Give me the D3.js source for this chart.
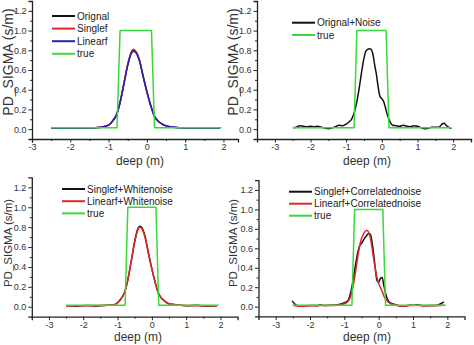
<!DOCTYPE html>
<html>
<head>
<meta charset="utf-8">
<script src="https://cdn.jsdelivr.net/npm/d3@7"></script>
<style>
  body { margin: 0; background: #fff; }
  svg { display: block; font-family: "Liberation Sans", Arial, sans-serif; }
</style>
</head>
<body>
<svg id="chart" width="474" height="345"></svg>
<script>
"use strict";

// step profile of the true model, shared by all four panels
const trueX = [-2.5, -0.78, -0.7, 0.12, 0.2, 1.95];
const trueY = [0.015, 0.015, 1.0, 1.0, 0.015, 0.015];

// noise-free inversions
const smoothX = [-2.5, -1.5, -1.2, -1.0, -0.9, -0.8, -0.7, -0.6, -0.5, -0.4, -0.35, -0.3, -0.2, -0.1, 0.0, 0.1, 0.2, 0.3, 0.4, 0.5, 0.7, 1.0, 1.9];
const orignalY = [0.01, 0.012, 0.02, 0.04, 0.08, 0.14, 0.27, 0.46, 0.65, 0.78, 0.80, 0.79, 0.71, 0.54, 0.38, 0.24, 0.13, 0.08, 0.05, 0.033, 0.02, 0.012, 0.01];
const singlefY = [0.01, 0.012, 0.02, 0.04, 0.08, 0.14, 0.27, 0.46, 0.66, 0.79, 0.81, 0.795, 0.71, 0.54, 0.38, 0.24, 0.13, 0.08, 0.05, 0.033, 0.02, 0.012, 0.01];
const linearfY = [0.01, 0.012, 0.02, 0.04, 0.08, 0.14, 0.27, 0.46, 0.65, 0.77, 0.79, 0.78, 0.70, 0.54, 0.38, 0.24, 0.13, 0.08, 0.05, 0.033, 0.02, 0.012, 0.01];

// original + noise
const noiseX = [-2.48, -2.4, -2.3, -2.2, -2.1, -2.0, -1.9, -1.8, -1.7, -1.6, -1.5, -1.4, -1.3, -1.2, -1.1, -1.0, -0.9, -0.85, -0.8, -0.75, -0.7, -0.65, -0.6, -0.55, -0.5, -0.45, -0.4, -0.35, -0.3, -0.25, -0.2, -0.15, -0.1, -0.05, 0.0, 0.05, 0.1, 0.15, 0.2, 0.25, 0.3, 0.4, 0.5, 0.6, 0.7, 0.8, 0.9, 1.0, 1.1, 1.2, 1.3, 1.4, 1.5, 1.6, 1.7, 1.75, 1.8, 1.9, 1.95];
const noiseY = [0.015, 0.02, 0.035, 0.03, 0.025, 0.03, 0.022, 0.03, 0.02, 0.012, 0.005, 0.012, 0.025, 0.04, 0.035, 0.05, 0.08, 0.1, 0.14, 0.2, 0.28, 0.38, 0.5, 0.62, 0.72, 0.79, 0.81, 0.815, 0.81, 0.76, 0.65, 0.55, 0.42, 0.33, 0.31, 0.28, 0.22, 0.15, 0.1, 0.06, 0.04, 0.035, 0.03, 0.04, 0.03, 0.025, 0.035, 0.03, 0.015, 0.005, 0.01, 0.02, 0.018, 0.02, 0.055, 0.06, 0.04, 0.015, 0.005];

// white noise inversions
const whiteX = [-2.5, -2.2, -1.9, -1.6, -1.3, -1.1, -1.0, -0.9, -0.8, -0.7, -0.6, -0.5, -0.4, -0.35, -0.3, -0.2, -0.1, 0.0, 0.1, 0.2, 0.3, 0.4, 0.5, 0.7, 1.0, 1.3, 1.6, 1.9];
const singlefWhiteY = [0.01, 0.006, 0.012, 0.008, 0.015, 0.02, 0.04, 0.08, 0.14, 0.27, 0.46, 0.66, 0.79, 0.81, 0.80, 0.71, 0.54, 0.38, 0.24, 0.13, 0.08, 0.05, 0.03, 0.02, 0.01, 0.014, 0.008, 0.01];
const linearfWhiteY = [0.01, 0.01, 0.01, 0.012, 0.015, 0.02, 0.04, 0.08, 0.14, 0.27, 0.46, 0.65, 0.78, 0.80, 0.79, 0.70, 0.54, 0.38, 0.24, 0.13, 0.08, 0.05, 0.03, 0.02, 0.012, 0.01, 0.01, 0.01];

// correlated noise inversions
const corrSingleX = [-2.52, -2.45, -2.35, -2.2, -2.0, -1.8, -1.7, -1.6, -1.4, -1.2, -1.0, -0.9, -0.85, -0.8, -0.75, -0.7, -0.65, -0.6, -0.55, -0.5, -0.45, -0.4, -0.35, -0.3, -0.25, -0.2, -0.15, -0.1, -0.05, 0.0, 0.05, 0.1, 0.15, 0.2, 0.25, 0.3, 0.4, 0.5, 0.6, 0.7, 0.8, 0.9, 1.0, 1.1, 1.2, 1.3, 1.5, 1.7, 1.8, 1.9];
const corrSingleY = [0.06, 0.03, 0.01, 0.005, 0.012, 0.01, 0.02, 0.012, 0.015, 0.02, 0.04, 0.06, 0.1, 0.17, 0.26, 0.37, 0.48, 0.57, 0.63, 0.65, 0.68, 0.71, 0.73, 0.75, 0.75, 0.68, 0.55, 0.40, 0.27, 0.25, 0.29, 0.30, 0.22, 0.14, 0.08, 0.05, 0.03, 0.02, 0.01, 0.005, 0.01, 0.015, 0.012, 0.02, 0.015, 0.01, 0.012, 0.015, 0.03, 0.05];
const corrLinearX = [-2.5, -2.3, -2.0, -1.6, -1.2, -1.0, -0.9, -0.8, -0.75, -0.7, -0.65, -0.6, -0.55, -0.5, -0.45, -0.4, -0.35, -0.3, -0.25, -0.2, -0.15, -0.1, -0.05, 0.0, 0.05, 0.1, 0.15, 0.2, 0.3, 0.4, 0.5, 0.7, 1.0, 1.5, 1.9];
const corrLinearY = [0.015, 0.005, 0.01, 0.012, 0.015, 0.03, 0.05, 0.12, 0.2, 0.3, 0.41, 0.53, 0.63, 0.70, 0.74, 0.77, 0.785, 0.77, 0.72, 0.62, 0.50, 0.39, 0.30, 0.24, 0.20, 0.16, 0.11, 0.08, 0.04, 0.025, 0.015, 0.005, 0.015, 0.01, 0.015];

const xTicks = [-3, -2, -1, 0, 1, 2];
const xMinor = [-2.5, -1.5, -0.5, 0.5, 1.5];
const yTicks = [0, 0.2, 0.4, 0.6, 0.8, 1.0, 1.2];
const yMinor = [0.1, 0.3, 0.5, 0.7, 0.9, 1.1];

const BLACK = "#111", RED = "#e02828", BLUE = "#2424b8", GREEN = "#3ad83a";

const zip = (xs, ys) => xs.map((x, i) => [x, ys[i]]);

const panels = [
  {
    xDomain: [-3, 2.38], xRange: [32, 238], yRange: [139, 1],
    ylab: {x: 8, y: 62, size: 14}, xlab: {x: 140, y: 165},
    legend: {x: 52, y: 16, step: 12.6},
    series: [
      {name: "Orignal", data: zip(smoothX, orignalY), color: BLACK, curve: d3.curveMonotoneX},
      {name: "Singlef", data: zip(smoothX, singlefY), color: RED, curve: d3.curveMonotoneX},
      {name: "Linearf", data: zip(smoothX, linearfY), color: BLUE, curve: d3.curveMonotoneX},
      {name: "true", data: zip(trueX, trueY), color: GREEN, curve: d3.curveLinear}
    ]
  },
  {
    xDomain: [-3.5, 2.5], xRange: [257, 471], yRange: [139, 1],
    ylab: {x: 233, y: 62, size: 14}, xlab: {x: 367, y: 165},
    legend: {x: 292, y: 22.7, step: 12.3},
    series: [
      {name: "Orignal+Noise", data: zip(noiseX, noiseY), color: BLACK, curve: d3.curveMonotoneX},
      {name: "true", data: zip(trueX, trueY), color: GREEN, curve: d3.curveLinear}
    ]
  },
  {
    xDomain: [-3.5, 2.5], xRange: [31.8, 237.6], yRange: [316.7, 177.4],
    ylab: {x: 8, y: 243, size: 11.5}, xlab: {x: 138, y: 341},
    legend: {x: 62, y: 189, step: 12.2},
    series: [
      {name: "Singlef+Whitenoise", data: zip(whiteX, singlefWhiteY), color: BLACK, curve: d3.curveMonotoneX},
      {name: "Linearf+Whitenoise", data: zip(whiteX, linearfWhiteY), color: RED, curve: d3.curveMonotoneX},
      {name: "true", data: zip(trueX, trueY), color: GREEN, curve: d3.curveLinear}
    ]
  },
  {
    xDomain: [-3.5, 2.5], xRange: [258.5, 464.5], yRange: [316.4, 180.2],
    ylab: {x: 233, y: 243, size: 11.5}, xlab: {x: 367, y: 341},
    legend: {x: 289, y: 191.7, step: 12},
    series: [
      {name: "Singlef+Correlatednoise", data: zip(corrSingleX, corrSingleY), color: BLACK, curve: d3.curveMonotoneX},
      {name: "Linearf+Correlatednoise", data: zip(corrLinearX, corrLinearY), color: RED, curve: d3.curveMonotoneX},
      {name: "true", data: zip(trueX, trueY), color: GREEN, curve: d3.curveLinear}
    ]
  }
];

const svg = d3.select("#chart");

function drawPanel(p) {
  const x = d3.scaleLinear().domain(p.xDomain).range(p.xRange);
  const y = d3.scaleLinear().domain([-0.1, 1.3]).range(p.yRange);
  const g = svg.append("g");

  // x axis with half-unit minor ticks
  const xAxis = g.append("g")
    .attr("transform", `translate(0,${p.yRange[0]})`)
    .call(d3.axisBottom(x).tickValues(xTicks).tickSize(3.5).tickPadding(1.5)
      .tickFormat(d3.format("d")));
  g.append("g")
    .attr("transform", `translate(0,${p.yRange[0]})`)
    .call(d3.axisBottom(x).tickValues(xMinor).tickSize(2).tickFormat(""))
    .select(".domain").remove();

  g.append("g")
    .attr("transform", `translate(${p.xRange[0]},0)`)
    .call(d3.axisLeft(y).tickValues(yTicks).tickSize(3.5).tickPadding(2)
      .tickFormat(d3.format(".1f")));
  g.append("g")
    .attr("transform", `translate(${p.xRange[0]},0)`)
    .call(d3.axisLeft(y).tickValues(yMinor).tickSize(2).tickFormat(""))
    .select(".domain").remove();

  g.selectAll(".domain").attr("stroke", "#222").attr("stroke-width", 1.3);
  g.selectAll(".tick line").attr("stroke", "#222").attr("stroke-width", 1);
  g.selectAll(".tick text").attr("font-size", 9).attr("fill", "#333")
    .attr("font-family", "'Liberation Sans', Arial, sans-serif");
  // minus signs drawn as plain hyphens
  xAxis.selectAll(".tick text").text(d => String(d));

  // data lines
  const line = d3.line().x(d => x(d[0])).y(d => y(d[1]));
  p.series.forEach(s => {
    g.append("path")
      .datum(s.data)
      .attr("fill", "none")
      .attr("stroke", s.color)
      .attr("stroke-width", 1.5)
      .attr("stroke-linejoin", "round")
      .attr("d", line.curve(s.curve));
  });

  // legend
  const lg = g.append("g");
  p.series.forEach((s, i) => {
    const ly = p.legend.y + i * p.legend.step;
    lg.append("line")
      .attr("x1", p.legend.x).attr("x2", p.legend.x + 23)
      .attr("y1", ly).attr("y2", ly)
      .attr("stroke", s.color).attr("stroke-width", 2);
    lg.append("text")
      .attr("x", p.legend.x + 25).attr("y", ly)
      .attr("dy", "0.35em")
      .attr("font-size", 10)
      .attr("fill", "#222")
      .text(s.name);
  });

  // axis titles
  g.append("text")
    .attr("transform", `translate(${p.ylab.x},${p.ylab.y}) rotate(-90)`)
    .attr("text-anchor", "middle")
    .attr("dy", "0.35em")
    .attr("font-size", p.ylab.size)
    .attr("fill", "#333")
    .text("PD_SIGMA (s/m)");
  g.append("text")
    .attr("x", p.xlab.x).attr("y", p.xlab.y)
    .attr("text-anchor", "middle")
    .attr("font-size", 12)
    .attr("fill", "#333")
    .text("deep (m)");
}

panels.forEach(drawPanel);
</script>
</body>
</html>
